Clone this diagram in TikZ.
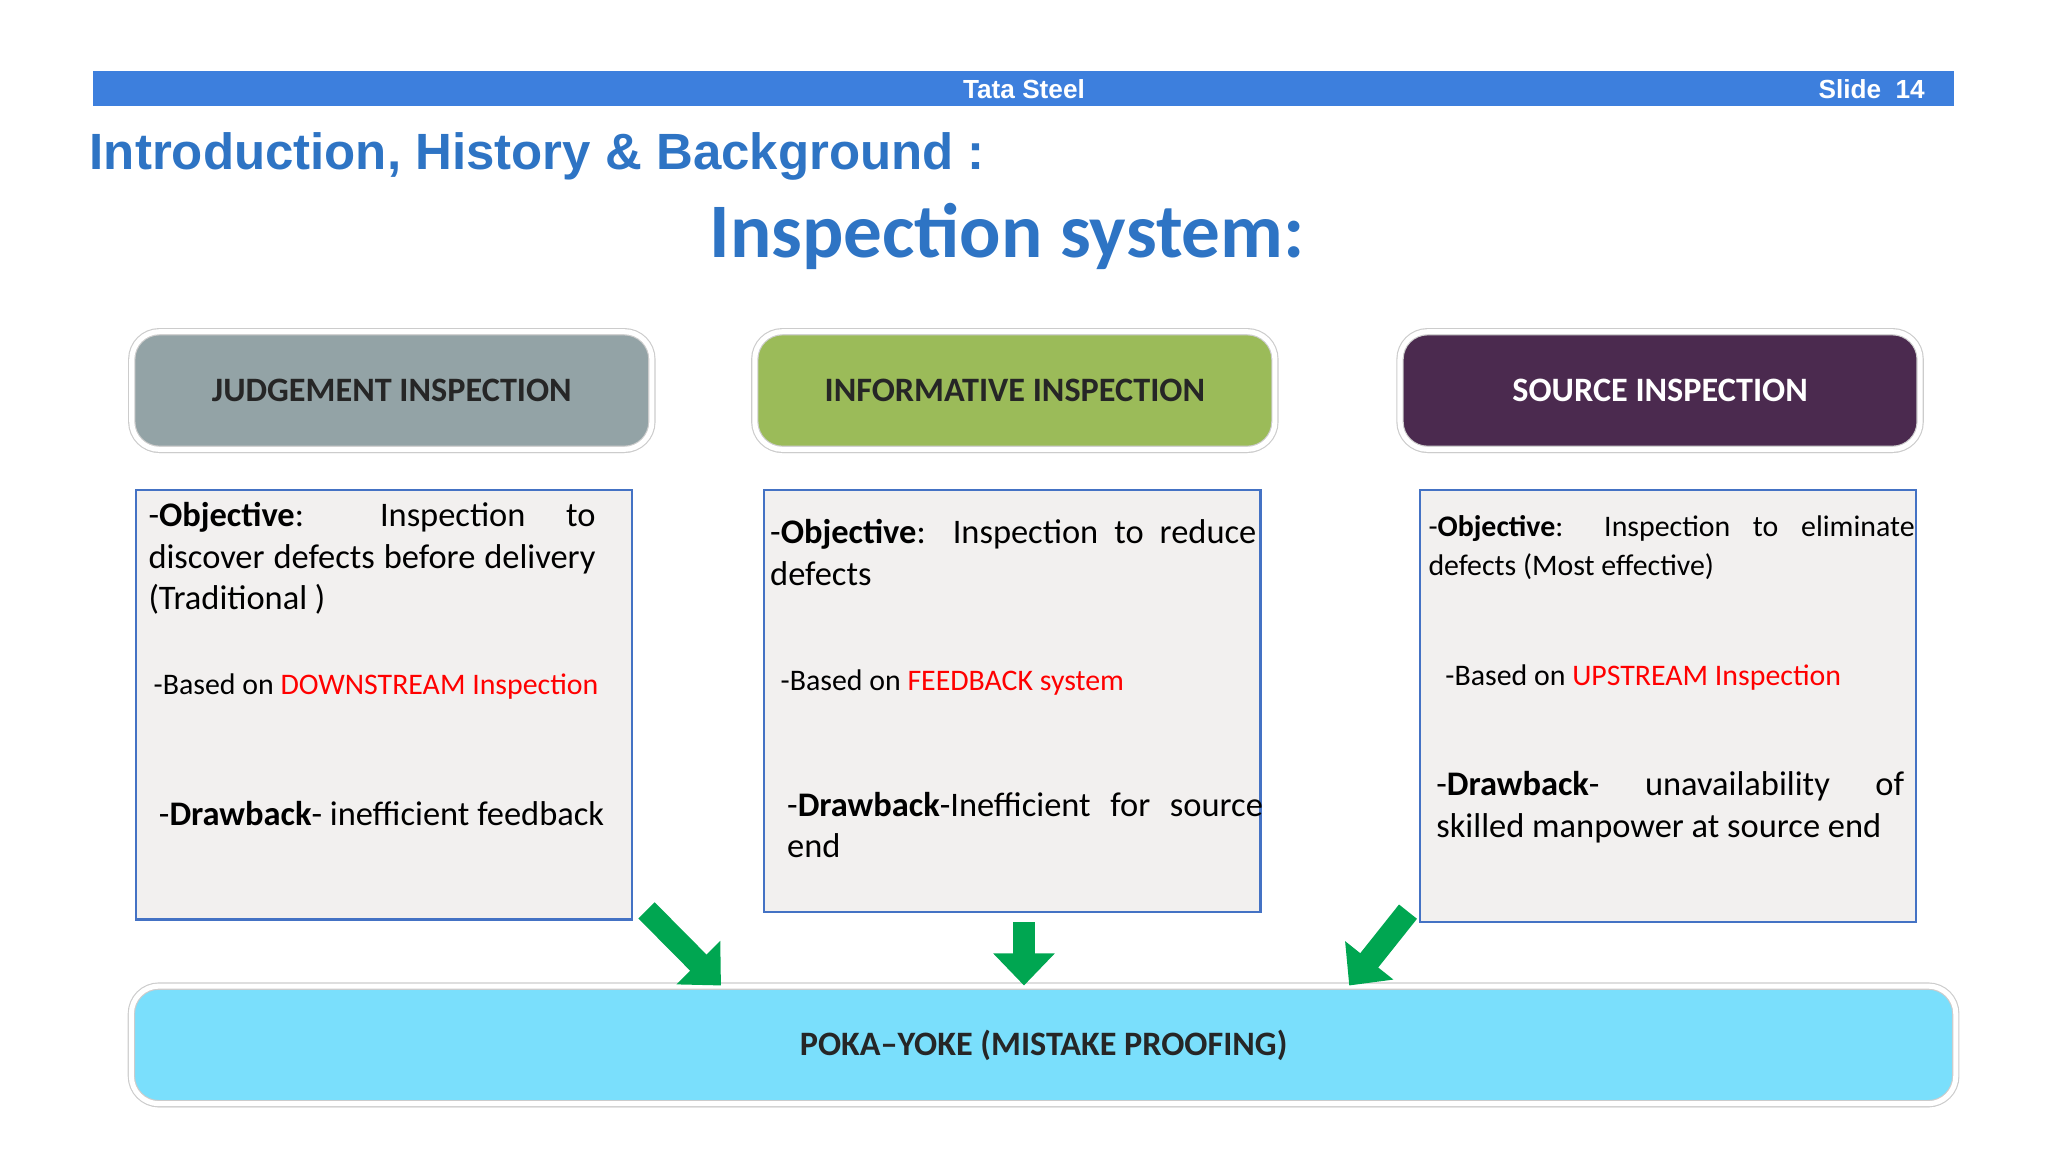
\documentclass[tikz,border=0pt]{standalone}
\usepackage{fontspec}
\setmainfont{Carlito}
\newfontfamily\arialf{Liberation Sans}
\usetikzlibrary{positioning,shadows,arrows.meta}
\definecolor{barblue}{HTML}{3D7FDD}
\definecolor{titleblue}{HTML}{2E74C4}
\definecolor{judgegray}{HTML}{93A3A6}
\definecolor{infogreen}{HTML}{9BBB59}
\definecolor{srcpurple}{HTML}{4B2A4F}
\definecolor{boxfill}{HTML}{F2F0EF}
\definecolor{boxline}{HTML}{4472C4}
\definecolor{pokafill}{HTML}{7ADFFC}
\definecolor{arrowgreen}{HTML}{00A651}
\tikzset{
  head/.style={draw=black!20, line width=0.25pt, double=white, double distance=1.1pt, rounded corners=6pt,
    minimum width=3.98cm, minimum height=0.9cm, font=\fontsize{7.45}{9}\selectfont\bfseries,
    drop shadow={shadow xshift=0pt, shadow yshift=-0.8pt, fill=black!50, opacity=0.3}},
  card/.style={draw=boxline, line width=0.5pt, fill=boxfill},
  para/.style={anchor=north west, text width=3.5cm, align=justify, inner sep=0pt,
    font=\fontsize{7.5}{9}\selectfont},
  small/.style={anchor=north west, inner sep=0pt, font=\fontsize{6.5}{8}\selectfont},
  flow/.style={line width=5pt, arrowgreen, -{Triangle[length=7pt,width=13pt]}}
}
\begin{document}
\begin{tikzpicture}[x=0.01cm,y=-0.01cm]
  \useasboundingbox (0,0) rectangle (1568,882);

  % top bar and titles
  \fill[barblue] (71,54) rectangle (1496,81);
  \node[text=white, font=\arialf\fontsize{5.7}{6}\selectfont\bfseries] (tata) at (784,68) {Tata Steel};
  \node[text=white, font=\arialf\fontsize{5.7}{6}\selectfont\bfseries] (slide) at (1433,68) {Slide~~14};
  \node[anchor=west, inner sep=0pt, text=titleblue, font=\arialf\fontsize{11.1}{13}\selectfont\bfseries] (intro) at (68,120)
    {Introduction, History \& Background :};
  \node[text=titleblue, font=\fontsize{16.8}{19}\selectfont\bfseries] (system) at (771,181) {Inspection system:};

  % the three kinds of inspection
  \node[head, fill=judgegray, text=black!85] (judge) at (300,299) {JUDGEMENT INSPECTION};
  \node[head, fill=infogreen, text=black!85] (inform) at (777,299) {INFORMATIVE INSPECTION};
  \node[head, fill=srcpurple, text=white] (source) at (1271,299) {SOURCE INSPECTION};

  \draw[card] (104,375) rectangle (484,704);
  \draw[card] (585,375) rectangle (965,698);
  \draw[card] (1087,375) rectangle (1467,706);

  \node[para, text width=3.42cm] (obj1) at (113,384)
    {-\textbf{Objective}: Inspection to\linebreak discover defects before delivery (Traditional )};
  \node[small] (base1) at (117,515) {-Based on \textcolor{red}{DOWNSTREAM Inspection}};
  \node[small, font=\fontsize{7.5}{9}\selectfont] (draw1) at (121,613) {-\textbf{Drawback}- inefficient feedback};

  \node[para, text width=3.72cm] (obj2) at (589,397)
    {-\textbf{Objective}: Inspection to reduce\linebreak defects};
  \node[small] (base2) at (597,512) {-Based on \textcolor{red}{FEEDBACK system}};
  \node[para, text width=3.64cm] (draw2) at (602,606)
    {-\textbf{Drawback}-Inefficient for source\linebreak end};

  \node[para, text width=3.72cm, font=\fontsize{6.5}{8.4}\selectfont] (obj3) at (1093,394)
    {-\textbf{Objective}: Inspection to eliminate\linebreak defects (Most effective)};
  \node[small] (base3) at (1106,508) {-Based on \textcolor{red}{UPSTREAM Inspection}};
  \node[para, text width=3.58cm] (draw3) at (1099,590)
    {-\textbf{Drawback}- unavailability of\linebreak skilled manpower at source end};

  % mistake proofing
  \node[head, fill=pokafill, text=black!85, minimum width=13.96cm, minimum height=0.9cm] (poka) at (799,800)
    {POKA--YOKE (MISTAKE PROOFING)};

  \coordinate (a1) at (495,697);
  \coordinate (a2) at (784,706);
  \coordinate (a3) at (1078,698);
  \draw[flow] (a1) -- (poka.north -| 552,0);
  \draw[flow] (a2) -- (poka.north -| 784,0);
  \draw[flow] (a3) -- (poka.north -| 1033,0);
\end{tikzpicture}
\end{document}
